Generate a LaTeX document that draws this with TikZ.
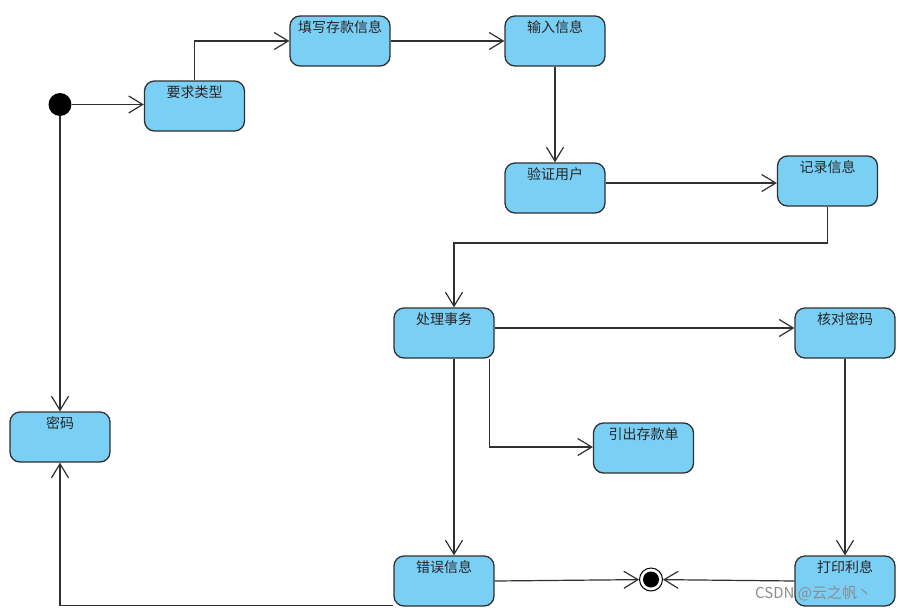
\documentclass[tikz,border=0pt]{standalone}
\usepackage{fontspec}
\setmainfont{Noto Sans CJK SC}
\usetikzlibrary{arrows.meta}
\definecolor{boxblue}{HTML}{7ACFF5}
\definecolor{edge}{HTML}{303030}
\tikzset{
  st/.style={draw=edge, fill=boxblue, line width=1.3pt, rounded corners=10pt,
    minimum width=100pt, minimum height=50pt, inner sep=0pt},
  lab/.style={anchor=north, yshift=-4pt, inner sep=1pt, font=\fontsize{14pt}{16pt}\selectfont, text=black!85},
  arr/.style={draw=edge, line width=1.2pt, -{Straight Barb[length=14pt,width=17pt,line width=1.2pt]}},
}
\begin{document}
\begin{tikzpicture}[x=1pt,y=-1pt]
\useasboundingbox (0,0) rectangle (900,611);
% initial / final
\node[circle, fill=black, minimum size=23pt, inner sep=0pt] (start) at (60,104.5) {};
\node[circle, draw=black, fill=white, line width=1pt, minimum size=23pt, inner sep=0pt] (end) at (651,579.5) {};
\node[circle, fill=black, minimum size=16pt, inner sep=0pt] (endin) at (651,579.5) {};
% states
\node[st] (yqlx) at (194.5,106) {};
\node[lab] at (yqlx.north) {要求类型};
\node[st] (txck) at (340,41) {};
\node[lab] at (txck.north) {填写存款信息};
\node[st] (srxx) at (555,41) {};
\node[lab] at (srxx.north) {输入信息};
\node[st] (yzyh) at (555,188) {};
\node[lab] at (yzyh.north) {验证用户};
\node[st] (jlxx) at (827.5,181) {};
\node[lab] at (jlxx.north) {记录信息};
\node[st] (clsw) at (444,333) {};
\node[lab] at (clsw.north) {处理事务};
\node[st] (hdmm) at (845,333) {};
\node[lab] at (hdmm.north) {核对密码};
\node[st] (yccd) at (643.5,448) {};
\node[lab] at (yccd.north) {引出存款单};
\node[st] (mm) at (60,437) {};
\node[lab] at (mm.north) {密码};
\node[st] (cwxx) at (444,581) {};
\node[lab] at (cwxx.north) {错误信息};
\node[st] (dylx) at (845,581) {};
\node[lab] at (dylx.north) {打印利息};
% connectors
\draw[arr] (start.east) -- (start -| yqlx.west);
\draw[arr] (start.south) -- (mm.north);
\draw[arr] (yqlx.north) |- (txck.west);
\draw[arr] (txck.east) -- (srxx.west);
\draw[arr] (srxx.south) -- (yzyh.north);
\draw[arr] ([yshift=5pt]yzyh.east) -- ([yshift=5pt]yzyh.east -| jlxx.west);
\coordinate (turn) at (827.5,243);
\draw[arr] (jlxx.south) -- (turn) -| ([xshift=10pt]clsw.north);
\draw[arr] ([yshift=5pt]clsw.east) -- ([yshift=5pt]clsw.east -| hdmm.west);
\coordinate (sd) at (489.5,447);
\draw[arr] ([xshift=45.5pt]clsw.south) -- (sd) -- (sd -| yccd.west);
\draw[arr] ([xshift=10pt]clsw.south) -- ([xshift=10pt]cwxx.north);
\draw[arr] (hdmm.south) -- (dylx.north);
\draw[arr] (cwxx.east) -- (end);
\draw[arr] (dylx.west) -- (end);
\draw[arr] ([yshift=1pt]cwxx.south west) -| (mm.south);
% watermark
\node[anchor=west, inner sep=0pt, text=black!45, font=\fontsize{15pt}{17pt}\selectfont] (wm) at (755,593) {CSDN @云之帆丶};
\end{tikzpicture}
\end{document}
